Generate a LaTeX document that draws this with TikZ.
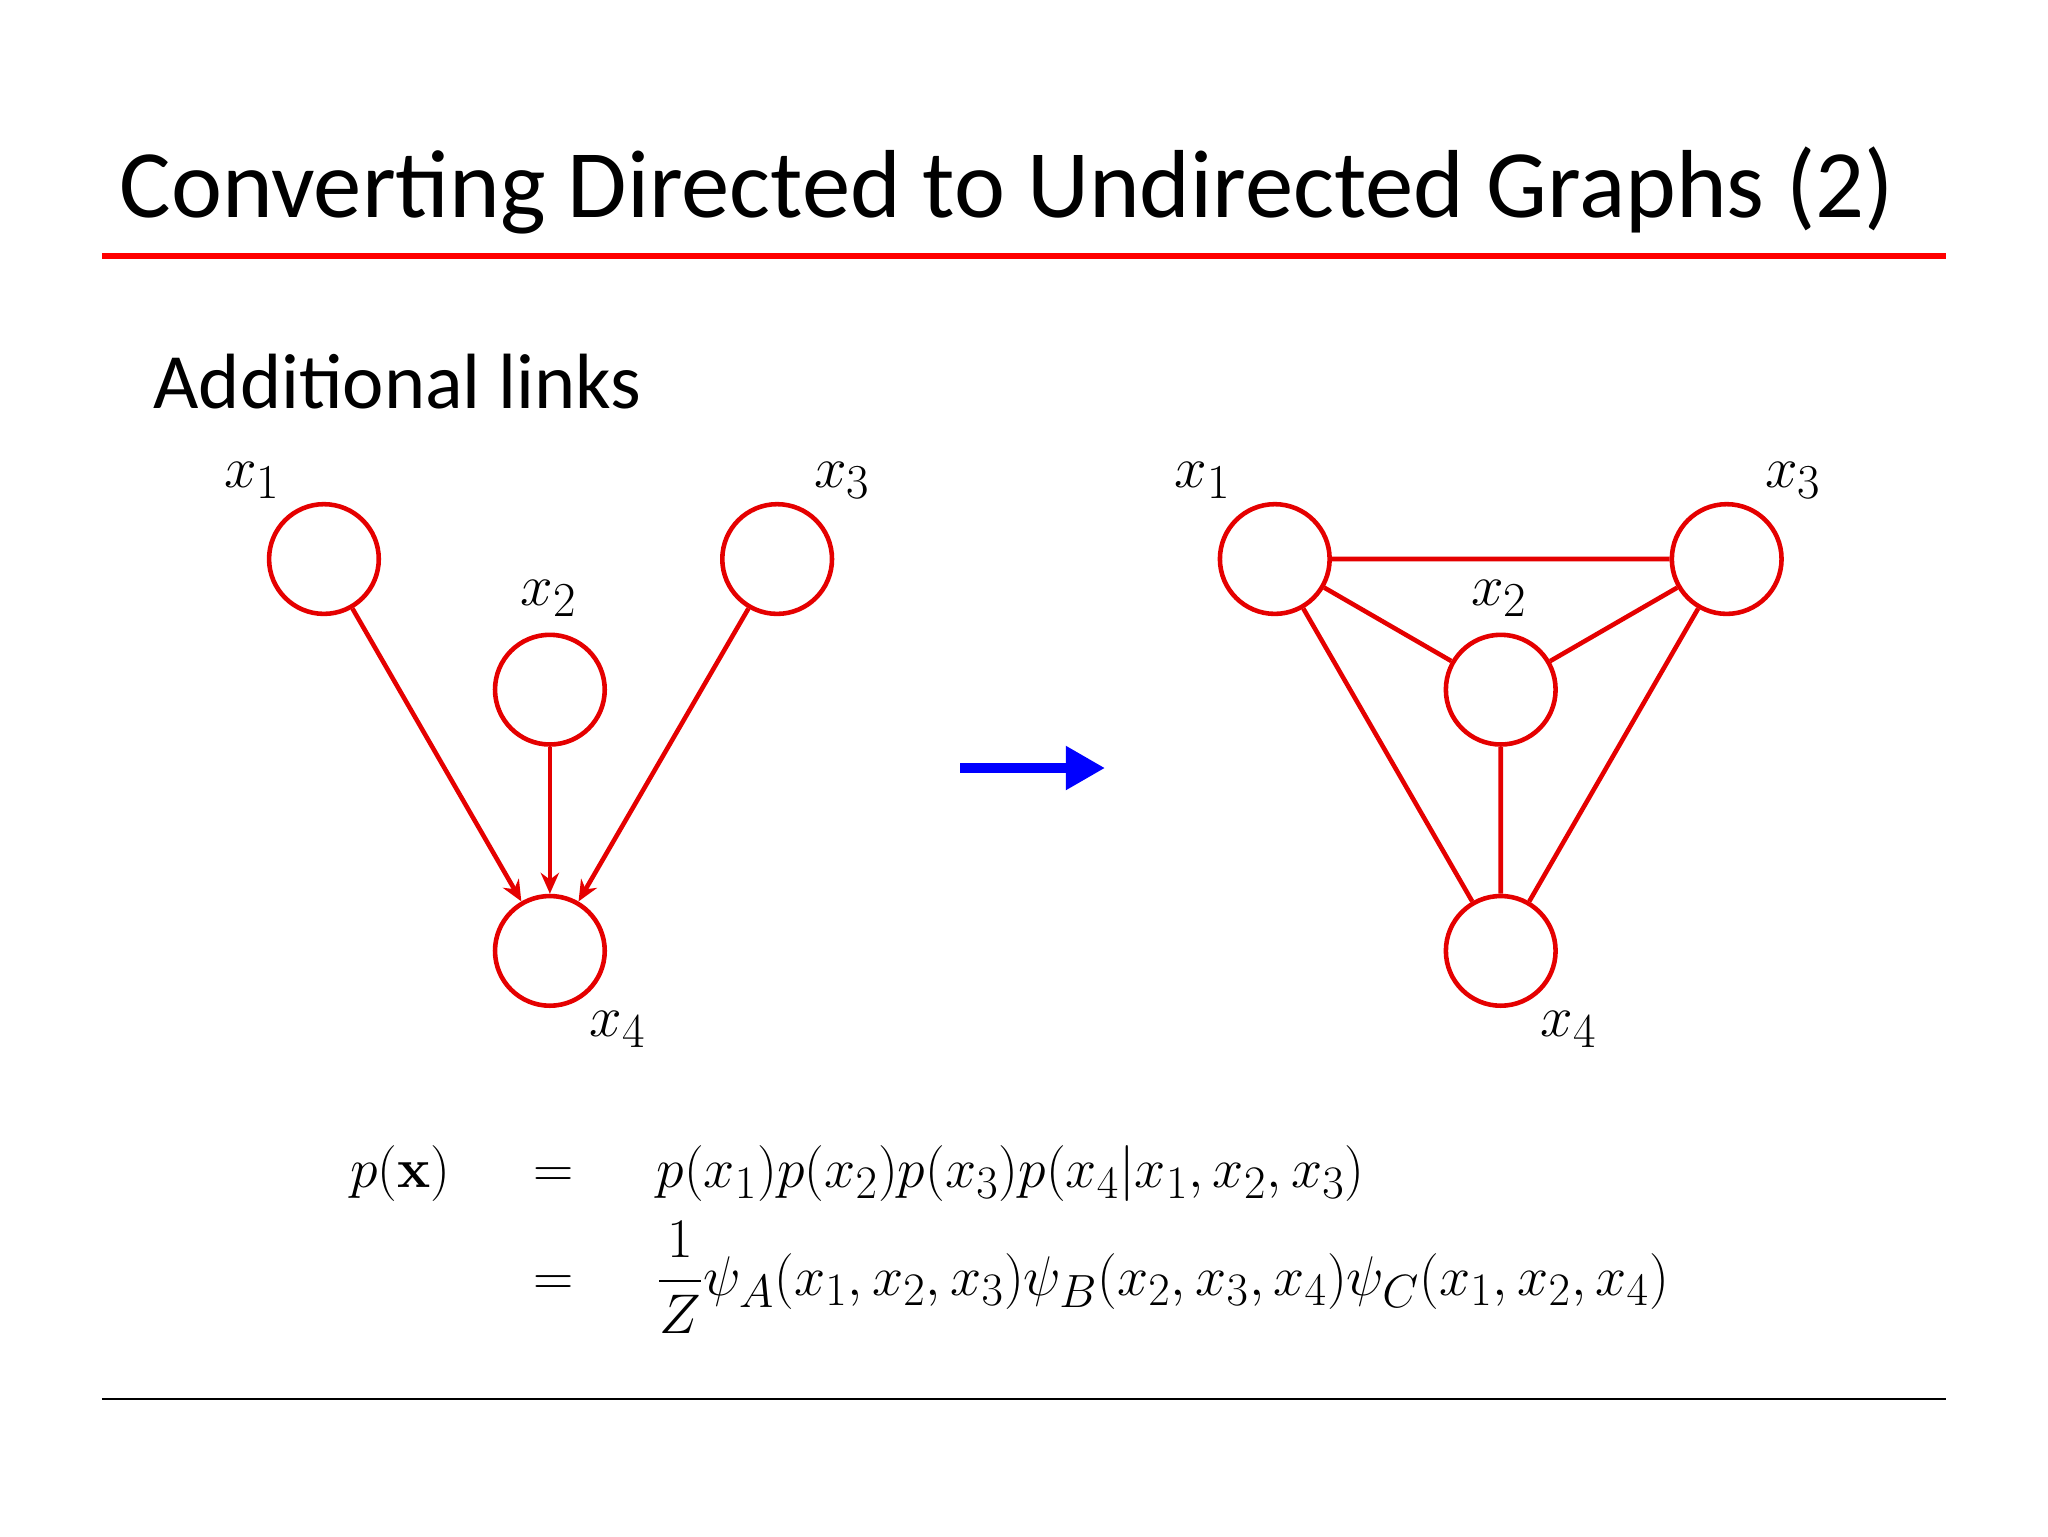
\documentclass[tikz,border=0pt]{standalone}
\usepackage{amsmath}
\usepackage[no-math]{fontspec}
\setmainfont{Carlito}
\usetikzlibrary{arrows.meta}
\newcommand{\bfx}{\mbox{\usefont{OT1}{cmr}{bx}{n}x}}
\begin{document}
\begin{tikzpicture}[x=1pt,y=-1pt,
  vnode/.style={circle,draw=red!90!black,line width=3.5pt,minimum size=84pt,inner sep=0pt},
  edge/.style={draw=red!90!black,line width=3.5pt},
  lbl/.style={font=\fontsize{30}{36}\selectfont}]
\useasboundingbox (0,0) rectangle (1568,1176);
\fill[white] (0,0) rectangle (1568,1176);
\node[anchor=west,font=\fontsize{74}{88}\selectfont] (title) at (88,146) {Converting Directed to Undirected Graphs (2)};
\draw[red,line width=5pt] (78,196) -- (1490,196);
\node[anchor=west,font=\fontsize{60}{72}\selectfont] (sub) at (114,292) {Additional links};
% left graph
\node[vnode] (a1) at (248,428) {};
\node[vnode] (a2) at (421,528) {};
\node[vnode] (a3) at (595,428) {};
\node[vnode] (a4) at (421,728) {};
\node[lbl] at (193,368) {\scalebox{1.8}{$x_1$}};
\node[lbl] at (420,458) {\scalebox{1.8}{$x_2$}};
\node[lbl] at (645,368) {\scalebox{1.8}{$x_3$}};
\node[lbl] at (473,788) {\scalebox{1.8}{$x_4$}};
\draw[edge,-{Stealth[length=16pt,width=14pt]}] (a1) -- (a4);
\draw[edge,-{Stealth[length=16pt,width=14pt]}] (a2) -- (a4);
\draw[edge,-{Stealth[length=16pt,width=14pt]}] (a3) -- (a4);
% arrow
\coordinate (ba) at (735,588);
\coordinate (bb) at (846,588);
\draw[blue,line width=7pt,-{Triangle[length=30pt,width=32pt]}] (ba) -- (bb);
% right graph
\node[vnode] (b1) at (976,428) {};
\node[vnode] (b2) at (1149,528) {};
\node[vnode] (b3) at (1322,428) {};
\node[vnode] (b4) at (1149,728) {};
\node[lbl] at (921,368) {\scalebox{1.8}{$x_1$}};
\node[lbl] at (1148,458) {\scalebox{1.8}{$x_2$}};
\node[lbl] at (1373,368) {\scalebox{1.8}{$x_3$}};
\node[lbl] at (1201,788) {\scalebox{1.8}{$x_4$}};
\draw[edge] (b1) -- (b3) (b1) -- (b2) (b2) -- (b3) (b1) -- (b4) (b2) -- (b4) (b3) -- (b4);
% equation
\node[anchor=north west,inner sep=0pt,font=\fontsize{30}{36}\selectfont] (eq) at (268,866) {\scalebox{1.72}{$\begin{aligned}
p(\bfx) \quad&=\quad p(x_1)p(x_2)p(x_3)p(x_4|x_1,x_2,x_3)\\
&=\quad \frac{1}{Z}\psi_A(x_1,x_2,x_3)\psi_B(x_2,x_3,x_4)\psi_C(x_1,x_2,x_4)
\end{aligned}$}};
\draw[black,line width=1.5pt] (78,1071) -- (1490,1071);
\end{tikzpicture}
\end{document}
